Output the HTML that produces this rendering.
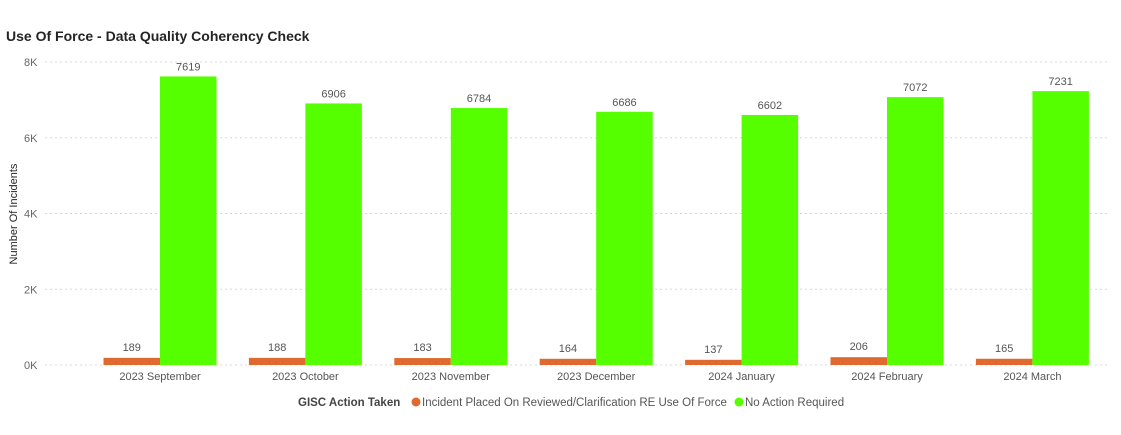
<!DOCTYPE html>
<html><head><meta charset="utf-8"><style>
body{margin:0;background:#fff;width:1121px;height:430px;overflow:hidden;font-family:"Liberation Sans",sans-serif}
</style></head><body>
<svg id="chart" width="1121" height="430" xmlns="http://www.w3.org/2000/svg">
<text x="6" y="41" font-size="14" font-weight="bold" fill="#252423">Use Of Force - Data Quality Coherency Check</text>
<text transform="translate(17,214) rotate(-90)" text-anchor="middle" font-size="11" fill="#252423">Number Of Incidents</text>
<g id="grid"></g><g id="bars"></g>
<g font-size="11.5">
<text x="298" y="406" font-weight="bold" fill="#444">GISC Action Taken</text>
<circle cx="416" cy="402" r="4.5" fill="#e0692f"/>
<text x="422" y="406" fill="#555">Incident Placed On Reviewed/Clarification RE Use Of Force</text>
<circle cx="739" cy="402" r="4.5" fill="#55ff00"/>
<text x="745" y="406" fill="#555">No Action Required</text>
</g>
</svg>
<script>
const categories=["2023 September","2023 October","2023 November","2023 December","2024 January","2024 February","2024 March"];
const incidentValues=[189,188,183,164,137,206,165];
const noActionValues=[7619,6906,6784,6686,6602,7072,7231];
const yTicks=[0,2000,4000,6000,8000];
const yTickLabels=["0K","2K","4K","6K","8K"];
const NS="http://www.w3.org/2000/svg";
const y0=365,yTop=62,yMax=8000;
const y=v=>y0-(v/yMax)*(y0-yTop);
const x=i=>160+i*145.4;
const bw=56.5;
function mk(tag,attrs,parent){const e=document.createElementNS(NS,tag);for(const k in attrs)e.setAttribute(k,attrs[k]);parent.appendChild(e);return e;}
const grid=document.getElementById('grid'),bars=document.getElementById('bars');
yTicks.forEach((t,i)=>{
 const l=mk('line',{x1:45,x2:1110,y1:y(t),y2:y(t),stroke:'#d8d8d8','stroke-dasharray':'2,3'},grid);
 
 
 const tx=mk('text',{x:24,y:y(t)+4,'font-size':11,fill:'#666'},grid);
 
 
 tx.textContent=yTickLabels[i];
});
categories.forEach((c,i)=>{
 const cx=x(i);
 const ob=mk('rect',{x:cx-bw,y:y(incidentValues[i]),width:bw,height:y0-y(incidentValues[i]),fill:'#e0692f'},bars);
 
 
 const gb=mk('rect',{x:cx,y:y(noActionValues[i]),width:bw,height:y0-y(noActionValues[i]),fill:'#55ff00'},bars);
 
 
 const ol=mk('text',{x:cx-bw/2,y:y(incidentValues[i])-7,'text-anchor':'middle','font-size':11,fill:'#555'},bars);
 
 
 ol.textContent=incidentValues[i];
 const gl=mk('text',{x:cx+bw/2,y:y(noActionValues[i])-6,'text-anchor':'middle','font-size':11,fill:'#555'},bars);
 
 
 gl.textContent=noActionValues[i];
 const xl=mk('text',{x:cx,y:380,'text-anchor':'middle','font-size':11,fill:'#555'},bars);
 
 
 xl.textContent=c;
});
</script>
</body></html>
